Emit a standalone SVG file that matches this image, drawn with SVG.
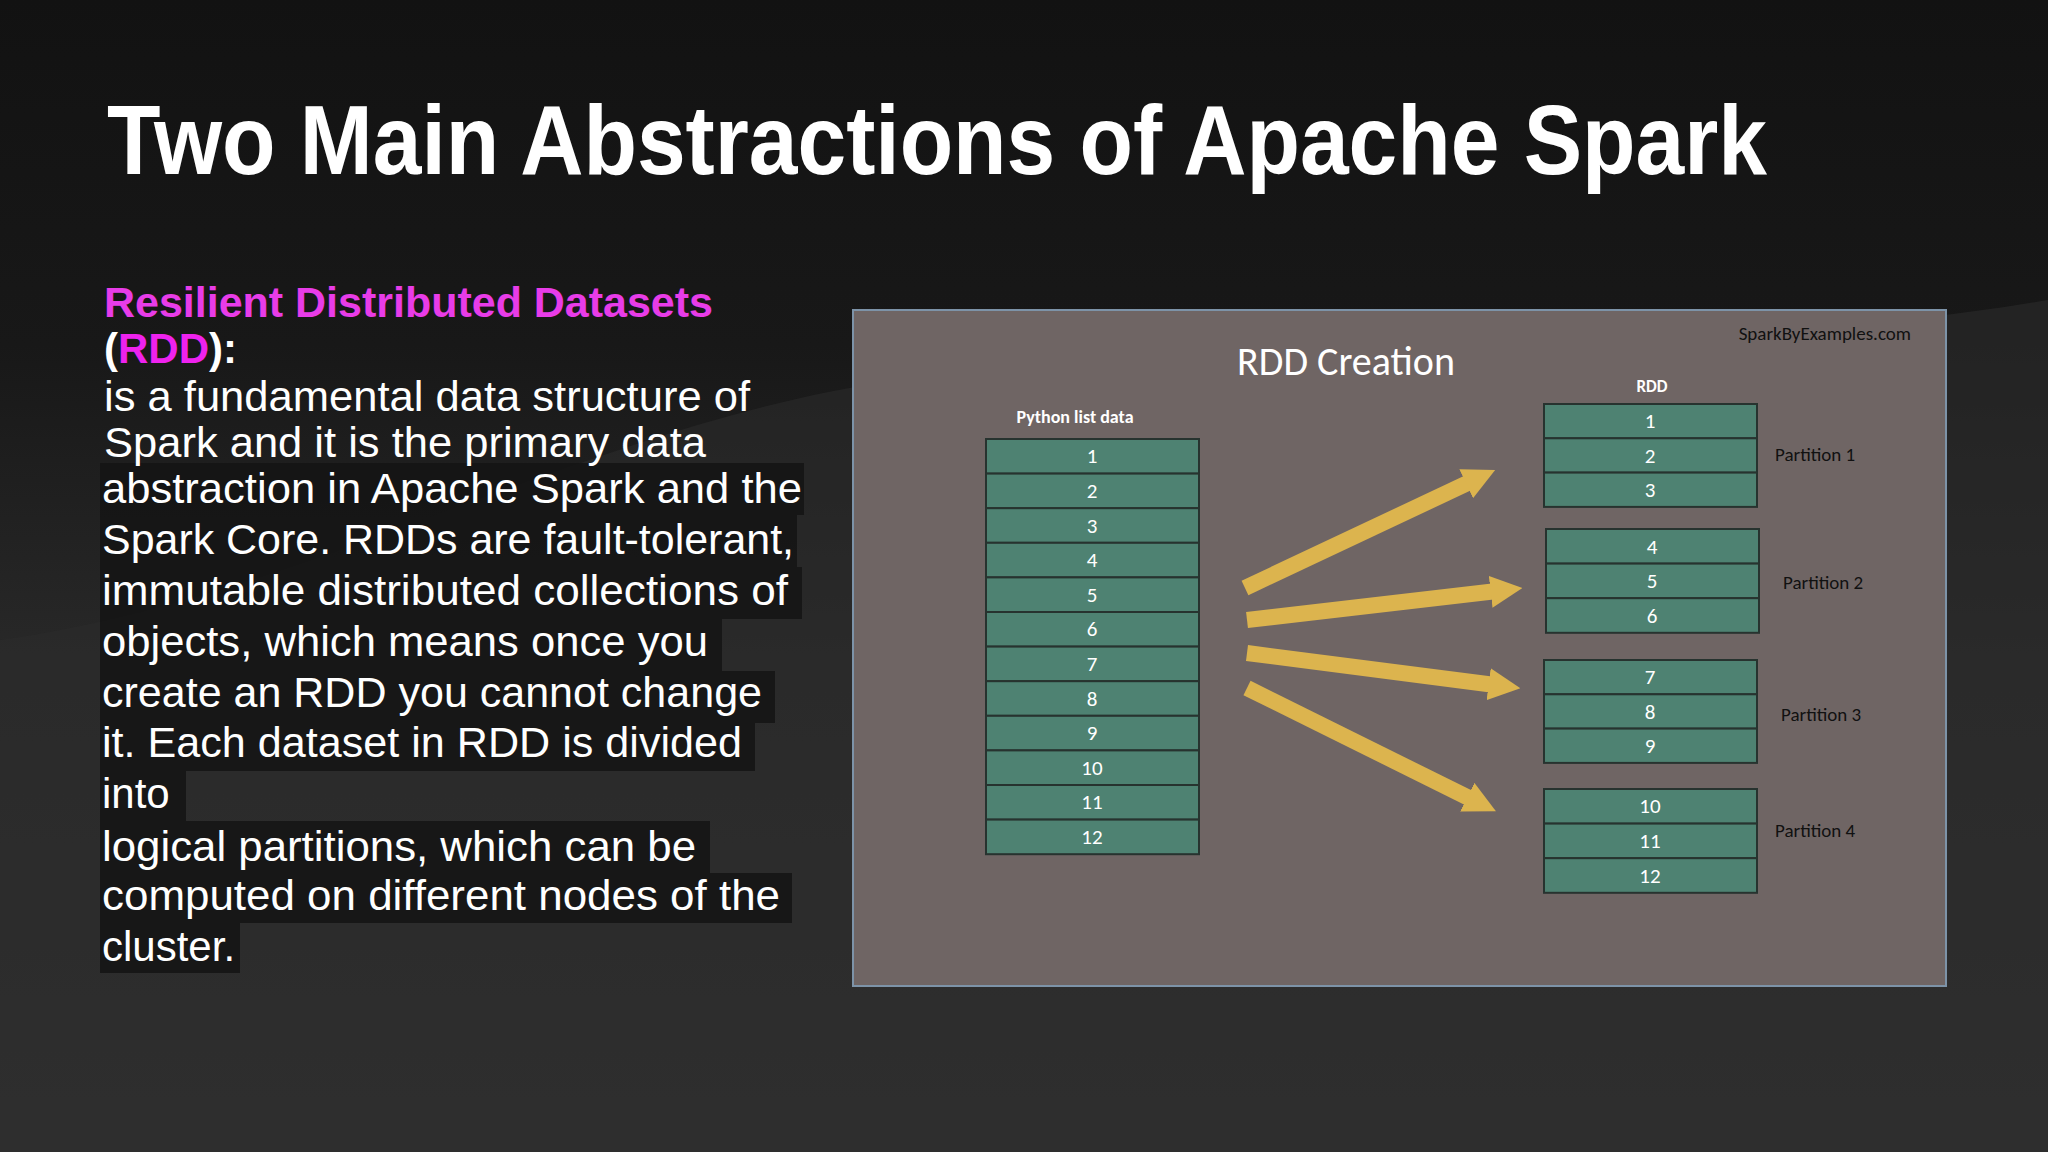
<svg xmlns="http://www.w3.org/2000/svg" width="2048" height="1152" viewBox="0 0 2048 1152">
<defs>
<linearGradient id="bg" x1="0" y1="0" x2="0" y2="1">
<stop offset="0" stop-color="#121212"/><stop offset="0.3" stop-color="#181818"/><stop offset="0.6" stop-color="#2a2a2a"/><stop offset="1" stop-color="#333"/>
</linearGradient>
<marker id="ah" viewBox="0 0 10 10" refX="2" refY="5" markerWidth="2" markerHeight="2" orient="auto" markerUnits="strokeWidth">
<path d="M0,0 L10,5 L0,10 Z" fill="#dcb44e"/>
</marker>
<style>
.cell{fill:#4e8272;stroke:#27332f;stroke-width:2}
.num{font-family:Carlito,"Liberation Sans",sans-serif;font-size:21px;fill:#fff;text-anchor:middle}
.lbl{font-family:Carlito,"Liberation Sans",sans-serif;font-size:19px;fill:#111}
.hl{fill:#141414;opacity:0.85}
.body{font-family:"Liberation Sans",Arial,sans-serif;font-size:42px;fill:#fff}
.arr{stroke:#dcb44e;stroke-width:16;marker-end:url(#ah)}
</style>
</defs>
<rect width="2048" height="1152" fill="url(#bg)"/>
<path d="M0,640 C300,600 600,420 900,380 C1300,330 1700,360 2048,300 L2048,1152 L0,1152 Z" fill="#2b2b2b" opacity="0.6"/>
<text x="107" y="174" font-family="Liberation Sans,Arial,sans-serif" font-weight="bold" font-size="98" fill="#fff" textLength="1660" lengthAdjust="spacingAndGlyphs">Two Main Abstractions of Apache Spark</text>
<g id="description">
<rect class="hl" x="100" y="463" width="704" height="52"/>
<rect class="hl" x="100" y="515" width="697" height="52"/>
<rect class="hl" x="100" y="567" width="702" height="52"/>
<rect class="hl" x="100" y="619" width="622" height="52"/>
<rect class="hl" x="100" y="671" width="675" height="52"/>
<rect class="hl" x="100" y="723" width="655" height="48"/>
<rect class="hl" x="100" y="771" width="86" height="50"/>
<rect class="hl" x="100" y="821" width="610" height="52"/>
<rect class="hl" x="100" y="873" width="692" height="50"/>
<rect class="hl" x="100" y="923" width="140" height="50"/>
<text x="104" y="317" font-family="Liberation Sans,Arial,sans-serif" font-weight="bold" font-size="42" fill="#e83ce8" textLength="609" lengthAdjust="spacingAndGlyphs">Resilient Distributed Datasets</text>
<text x="104" y="363" font-family="Liberation Sans,Arial,sans-serif" font-weight="bold" font-size="42" fill="#fff">(<tspan fill="#ee22ee">RDD</tspan>):</text>
<text class="body" x="104" y="411" textLength="646" lengthAdjust="spacingAndGlyphs">is a fundamental data structure of</text>
<text class="body" x="104" y="457" textLength="602" lengthAdjust="spacingAndGlyphs">Spark and it is the primary data</text>
<text class="body" x="102" y="503" textLength="700" lengthAdjust="spacingAndGlyphs">abstraction in Apache Spark and the</text>
<text class="body" x="102" y="554" textLength="692" lengthAdjust="spacingAndGlyphs">Spark Core. RDDs are fault-tolerant,</text>
<text class="body" x="102" y="605" textLength="686" lengthAdjust="spacingAndGlyphs">immutable distributed collections of</text>
<text class="body" x="102" y="656" textLength="606" lengthAdjust="spacingAndGlyphs">objects, which means once you</text>
<text class="body" x="102" y="707" textLength="660" lengthAdjust="spacingAndGlyphs">create an RDD you cannot change</text>
<text class="body" x="102" y="757" textLength="640" lengthAdjust="spacingAndGlyphs">it. Each dataset in RDD is divided</text>
<text class="body" x="102" y="808">into</text>
<text class="body" x="102" y="861" textLength="594" lengthAdjust="spacingAndGlyphs">logical partitions, which can be</text>
<text class="body" x="102" y="910" textLength="678" lengthAdjust="spacingAndGlyphs">computed on different nodes of the</text>
<text class="body" x="102" y="961">cluster.</text>
</g>
<g id="panel">
<rect x="853" y="310" width="1093" height="676" fill="#6f6564" stroke="#7d93a8" stroke-width="2"/>
<text x="1911" y="340" class="lbl" text-anchor="end">SparkByExamples.com</text>
<text x="1346" y="375" font-family="Carlito,'Liberation Sans',sans-serif" font-size="40" fill="#fff" text-anchor="middle">RDD Creation</text>
</g>
<g id="python-list">
<text x="1075" y="423" font-family="Carlito,'Liberation Sans',sans-serif" font-weight="bold" font-size="18" fill="#fff" text-anchor="middle">Python list data</text>
<rect class="cell" x="986" y="439" width="213" height="34.6"/><text class="num" x="1092" y="463">1</text>
<rect class="cell" x="986" y="473.6" width="213" height="34.6"/><text class="num" x="1092" y="498">2</text>
<rect class="cell" x="986" y="508.2" width="213" height="34.6"/><text class="num" x="1092" y="533">3</text>
<rect class="cell" x="986" y="542.8" width="213" height="34.6"/><text class="num" x="1092" y="567">4</text>
<rect class="cell" x="986" y="577.4" width="213" height="34.6"/><text class="num" x="1092" y="602">5</text>
<rect class="cell" x="986" y="612" width="213" height="34.6"/><text class="num" x="1092" y="636">6</text>
<rect class="cell" x="986" y="646.6" width="213" height="34.6"/><text class="num" x="1092" y="671">7</text>
<rect class="cell" x="986" y="681.2" width="213" height="34.6"/><text class="num" x="1092" y="706">8</text>
<rect class="cell" x="986" y="715.8" width="213" height="34.6"/><text class="num" x="1092" y="740">9</text>
<rect class="cell" x="986" y="750.4" width="213" height="34.6"/><text class="num" x="1092" y="775">10</text>
<rect class="cell" x="986" y="785" width="213" height="34.6"/><text class="num" x="1092" y="809">11</text>
<rect class="cell" x="986" y="819.6" width="213" height="34.6"/><text class="num" x="1092" y="844">12</text>
</g>
<g id="rdd-label"><text x="1652" y="392" font-family="Carlito,'Liberation Sans',sans-serif" font-weight="bold" font-size="17" fill="#fff" text-anchor="middle">RDD</text></g>
<g id="partition1">
<rect class="cell" x="1544" y="404" width="213" height="34.3"/><text class="num" x="1650" y="428">1</text>
<rect class="cell" x="1544" y="438.3" width="213" height="34.3"/><text class="num" x="1650" y="463">2</text>
<rect class="cell" x="1544" y="472.6" width="213" height="34.3"/><text class="num" x="1650" y="497">3</text>
<text class="lbl" x="1775" y="461">Partition 1</text>
</g>
<g id="partition2">
<rect class="cell" x="1546" y="529" width="213" height="34.6"/><text class="num" x="1652" y="554">4</text>
<rect class="cell" x="1546" y="563.6" width="213" height="34.6"/><text class="num" x="1652" y="588">5</text>
<rect class="cell" x="1546" y="598.2" width="213" height="34.6"/><text class="num" x="1652" y="623">6</text>
<text class="lbl" x="1783" y="589">Partition 2</text>
</g>
<g id="partition3">
<rect class="cell" x="1544" y="660" width="213" height="34.3"/><text class="num" x="1650" y="684">7</text>
<rect class="cell" x="1544" y="694.3" width="213" height="34.3"/><text class="num" x="1650" y="719">8</text>
<rect class="cell" x="1544" y="728.6" width="213" height="34.3"/><text class="num" x="1650" y="753">9</text>
<text class="lbl" x="1781" y="721">Partition 3</text>
</g>
<g id="partition4">
<rect class="cell" x="1544" y="789" width="213" height="34.6"/><text class="num" x="1650" y="813">10</text>
<rect class="cell" x="1544" y="823.6" width="213" height="34.6"/><text class="num" x="1650" y="848">11</text>
<rect class="cell" x="1544" y="858.2" width="213" height="34.6"/><text class="num" x="1650" y="883">12</text>
<text class="lbl" x="1775" y="837">Partition 4</text>
</g>
<g id="connectors">
<line class="arr" x1="1245" y1="588" x2="1472" y2="481"/>
<line class="arr" x1="1247" y1="620" x2="1497" y2="591"/>
<line class="arr" x1="1247" y1="653" x2="1495" y2="685"/>
<line class="arr" x1="1247" y1="688" x2="1473" y2="800"/>
</g>
</svg>
